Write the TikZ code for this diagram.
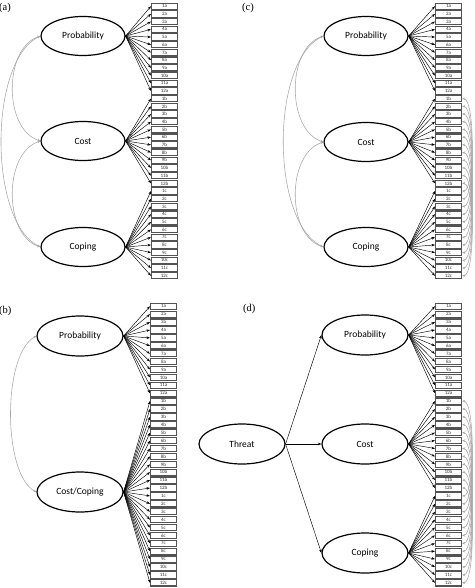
\documentclass[tikz,border=0pt]{standalone}
\usepackage{fontspec}
\setmainfont{Liberation Serif}
\newfontfamily\calfont{Carlito}
\usetikzlibrary{shapes.geometric,arrows.meta}
\newcommand\itemcolumn[4]{%
  \foreach \l [count=\g from 0] in {a,b,c}{%
    \foreach \k in {1,...,12}{%
      \node[item] (#1\k\l) at (#2, {#3+(\g*12+\k-1)*#4}) {\k\l};
    }}}
\begin{document}
\begin{tikzpicture}[x=1pt,y=-1pt,
  lat/.style={ellipse,draw,line width=1.2pt,fill=white,minimum width=84pt,minimum height=39pt,inner sep=0pt,font=\calfont\fontsize{9.5}{9.5}\selectfont},
  latw/.style={lat,minimum width=86pt,minimum height=40pt},
  item/.style={rectangle,draw=gray!65!black,line width=1.1pt,fill=white,minimum width=26pt,minimum height=6.3pt,inner sep=0pt,text=black!80,font=\calfont\fontsize{5}{5}\selectfont},
  load/.style={-{Stealth[length=3.5pt,width=2.6pt]},line width=0.45pt},
  cov/.style={{Stealth[length=3pt,width=2.4pt]}-{Stealth[length=3pt,width=2.4pt]},draw=gray!70,line width=0.55pt},
  plab/.style={font=\fontsize{10.5}{10.5}\selectfont,inner sep=0pt,anchor=west}]
\useasboundingbox (0,0) rectangle (474,588);

% ---------- panel labels
\node[plab] (la) at (-1,8) {(a)};
\node[plab] (lb) at (-1,311) {(b)};
\node[plab] (lc) at (242,8) {(c)};
\node[plab] (ld) at (243,309) {(d)};

% ---------- panel (a)
\itemcolumn{A}{164.5}{6.25}{7.7}
\node[lat] (Aprob) at (83,36) {Probability};
\node[lat] (Acost) at (83,141) {Cost};
\node[lat] (Acop) at (83,247) {Coping};
\foreach \k in {1,...,12}{
  \draw[load] (Aprob.east) -- (A\k a.west);
  \draw[load] (Acost.east) -- (A\k b.west);
  \draw[load] (Acop.east) -- (A\k c.west);
}
\draw[cov] (Aprob.west) .. controls +(-37,12) and +(-37,-12) .. (Acost.west);
\draw[cov] (Acost.west) .. controls +(-37,12) and +(-37,-12) .. (Acop.west);
\draw[cov] (Aprob.west) .. controls +(-52,25) and +(-52,-25) .. (Acop.west);

% ---------- panel (c)
\itemcolumn{C}{448.5}{6.25}{7.7}
\node[lat] (Cprob) at (366,36) {Probability};
\node[lat] (Ccost) at (366,142) {Cost};
\node[lat] (Ccop) at (366,247) {Coping};
\foreach \k in {1,...,12}{
  \draw[load] (Cprob.east) -- (C\k a.west);
  \draw[load] (Ccost.east) -- (C\k b.west);
  \draw[load] (Ccop.east) -- (C\k c.west);
  \draw[cov] (C\k b.east) .. controls +(13,0) and +(13,0) .. (C\k c.east);
}
\draw[cov] (Cprob.west) .. controls +(-37,12) and +(-37,-12) .. (Ccost.west);
\draw[cov] (Ccost.west) .. controls +(-37,12) and +(-37,-12) .. (Ccop.west);
\draw[cov] (Cprob.west) .. controls +(-53,25) and +(-53,-25) .. (Ccop.west);

% ---------- panel (b)
\itemcolumn{B}{163.5}{306.3}{7.9}
\node[latw] (Bprob) at (80,336) {Probability};
\node[latw] (Bcc) at (80,492) {Cost/Coping};
\foreach \k in {1,...,12}{
  \draw[load] (Bprob.east) -- (B\k a.west);
  \draw[load] (Bcc.east) -- (B\k b.west);
  \draw[load] (Bcc.east) -- (B\k c.west);
}
\draw[cov] (Bprob.west) .. controls +(-34,18) and +(-34,-18) .. (Bcc.west);

% ---------- panel (d)
\itemcolumn{D}{448.5}{306.3}{7.9}
\node[latw] (Dthreat) at (242,444) {Threat};
\node[latw] (Dprob) at (365,335) {Probability};
\node[latw] (Dcost) at (365,444) {Cost};
\node[latw] (Dcop) at (365,553) {Coping};
\draw[load] (Dthreat.east) -- (Dprob.west);
\draw[load] (Dthreat.east) -- (Dcost.west);
\draw[load] (Dthreat.east) -- (Dcop.west);
\foreach \k in {1,...,12}{
  \draw[load] (Dprob.east) -- (D\k a.west);
  \draw[load] (Dcost.east) -- (D\k b.west);
  \draw[load] (Dcop.east) -- (D\k c.west);
  \draw[cov] (D\k b.east) .. controls +(13,0) and +(13,0) .. (D\k c.east);
}
\end{tikzpicture}
\end{document}
